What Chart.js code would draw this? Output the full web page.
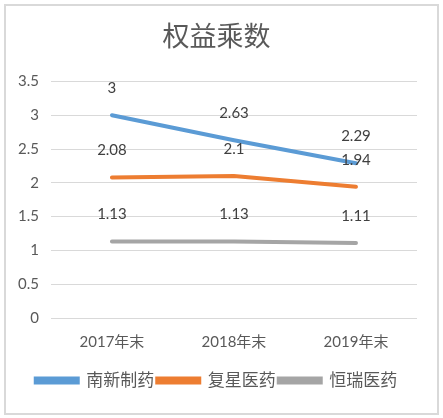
<!DOCTYPE html>
<html lang="zh">
<head>
    <meta charset="UTF-8">
    <title>权益乘数</title>
    <script src="https://cdn.jsdelivr.net/npm/chart.js"></script>
    <style>
        body { margin: 0; background: #fff; }
        #frame {
            position: absolute; left: 4px; top: 4px;
            width: 431px; height: 407px;
            border: 2px solid #d9d9d9; box-sizing: content-box;
        }
        #chart-wrap { position: absolute; left: 0; top: 0; width: 431px; height: 407px; }
    </style>
</head>
<body>
    <div id="frame">
        <div id="chart-wrap"><canvas id="equity-chart"></canvas></div>
    </div>

    <script>
        // Categories and series values
        const categories = ['2017年末', '2018年末', '2019年末'];
        const nanxin = [3, 2.63, 2.29];
        const fosun = [2.08, 2.1, 1.94];
        const hengrui = [1.13, 1.13, 1.11];
        const seriesNames = ['南新制药', '复星医药', '恒瑞医药'];
        const yTicks = [0, 0.5, 1, 1.5, 2, 2.5, 3, 3.5];

        const fontFamily = "Lato, 'Noto Sans CJK SC', sans-serif";
        const textColor = '#595959';

        // Draw value labels above each point
        const valueLabels = {
            id: 'valueLabels',
            afterDatasetsDraw(chart) {
                const ctx = chart.ctx;
                ctx.save();
                ctx.font = '15px ' + fontFamily;
                ctx.fillStyle = '#404040';
                ctx.textAlign = 'center';
                ctx.textBaseline = 'middle';
                chart.data.datasets.forEach((ds, i) => {
                    chart.getDatasetMeta(i).data.forEach((pt, j) => {
                        ctx.fillText(String(ds.data[j]), pt.x, pt.y - 27);
                    });
                });
                ctx.restore();
            }
        };

        const ctx = document.getElementById('equity-chart').getContext('2d');
        new Chart(ctx, {
            type: 'line',
            data: {
                labels: categories,
                datasets: [
                    { label: seriesNames[0], data: nanxin, borderColor: '#5B9BD5', backgroundColor: '#5B9BD5' },
                    { label: seriesNames[1], data: fosun, borderColor: '#ED7D31', backgroundColor: '#ED7D31' },
                    { label: seriesNames[2], data: hengrui, borderColor: '#A5A5A5', backgroundColor: '#A5A5A5' }
                ].map(d => Object.assign(d, { borderWidth: 4, pointRadius: 0, tension: 0, borderCapStyle: 'round' }))
            },
            options: {
                responsive: true,
                maintainAspectRatio: false,
                animation: false,
                layout: { padding: { left: 10, right: 20, top: 0, bottom: 14 } },
                plugins: {
                    title: {
                        display: true,
                        text: '权益乘数',
                        color: textColor,
                        font: { family: fontFamily, size: 27, weight: 'normal' },
                        padding: { top: 15, bottom: 28 }
                    },
                    legend: {
                        position: 'bottom',
                        labels: {
                            color: textColor,
                            font: { family: fontFamily, size: 17 },
                            boxWidth: 42,
                            boxHeight: 4,
                            padding: 3
                        }
                    },
                    tooltip: { enabled: false }
                },
                scales: {
                    x: {
                        offset: true,
                        grid: { display: false, drawTicks: false },
                        border: { display: false },
                        ticks: { color: textColor, font: { family: fontFamily, size: 15 }, padding: 15 },
                        afterFit: axis => { axis.height += 3; }
                    },
                    y: {
                        min: 0,
                        max: 3.5,
                        afterBuildTicks: axis => { axis.ticks = yTicks.map(v => ({ value: v })); },
                        grid: { color: '#d9d9d9', lineWidth: 1, drawTicks: false },
                        border: { display: false },
                        ticks: {
                            color: textColor,
                            font: { family: fontFamily, size: 15 },
                            padding: 12,
                            callback: v => String(v)
                        },
                        afterFit: axis => { axis.width -= 10; }
                    }
                }
            },
            plugins: [valueLabels]
        });
    </script>
</body>
</html>
